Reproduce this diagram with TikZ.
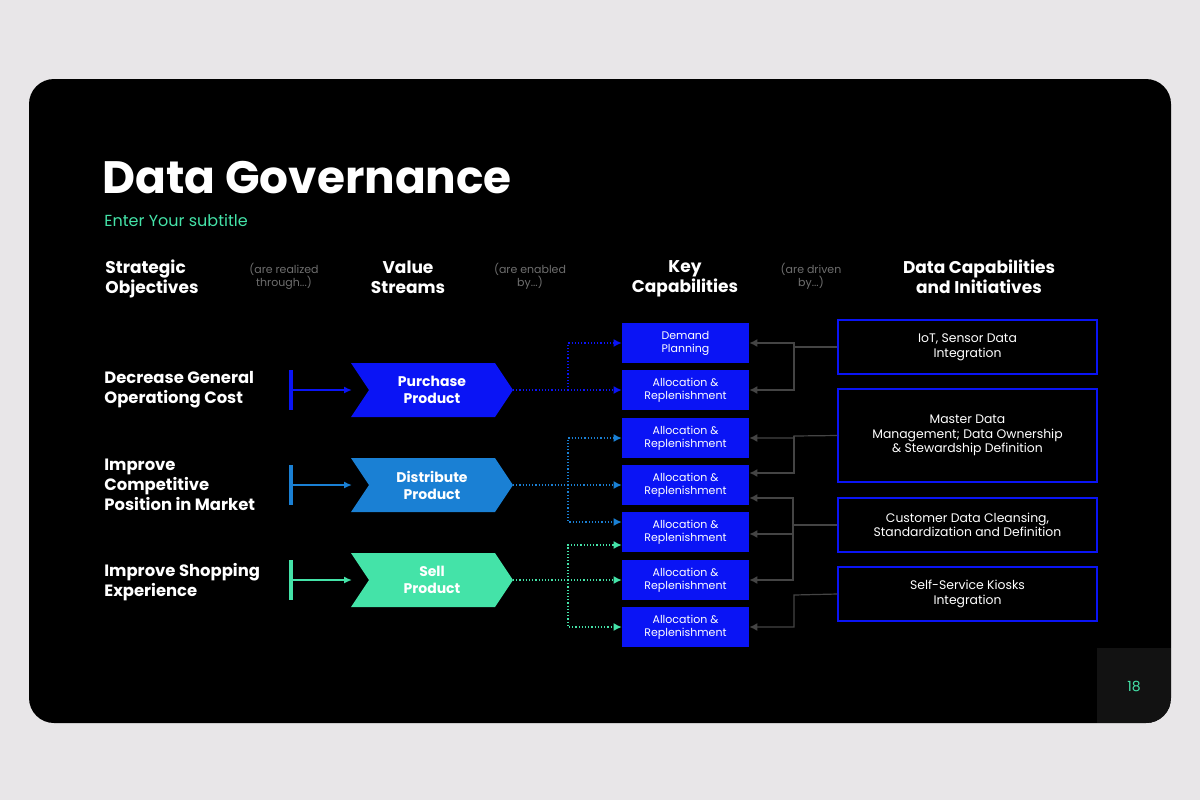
\documentclass[tikz,border=0pt]{standalone}
\usepackage{fontspec}
\setmainfont{Poppins}
\usetikzlibrary{arrows.meta,calc}
\definecolor{bgc}{HTML}{E8E6E8}
\definecolor{kblue}{HTML}{0A14F5}
\definecolor{mblue}{HTML}{1A80D4}
\definecolor{mgreen}{HTML}{44E3A8}
\definecolor{dgray}{HTML}{444444}
\definecolor{lgray}{HTML}{6E6E6E}
\begin{document}
\begin{tikzpicture}[x=0.5pt,y=-0.5pt,
 hdr/.style={text=white,font=\bfseries\fontsize{8.5}{10}\selectfont,align=center,text depth=0pt},
 note/.style={text=lgray,font=\fontsize{5.5}{6.5}\selectfont,align=center},
 obj/.style={text=white,font=\bfseries\fontsize{8.2}{10}\selectfont,align=left,anchor=west},
 key/.style={fill=kblue,minimum width=63.5pt,minimum height=20pt,inner sep=0pt,text=white,font=\fontsize{5.5}{6.5}\selectfont,align=center},
 dat/.style={draw=kblue,line width=0.7pt,minimum width=129.5pt,inner sep=0pt,text=white,font=\fontsize{6.2}{7.3}\selectfont,align=center},
 chev/.style={text=white,font=\bfseries\fontsize{7}{8.5}\selectfont,align=center},
 dot/.style={densely dotted,line width=0.6pt,-{Latex[length=4pt,width=4pt]}},
 gr/.style={draw=dgray,line width=0.6pt,-{Latex[length=4pt,width=4pt]}},
 bar/.style={line width=2pt},
 arr/.style={line width=1pt,-{Latex[length=4pt,width=3.5pt]}}]
\fill[bgc] (0,0) rectangle (1200,800);
\fill[black,rounded corners=12.5pt] (29,79) rectangle (1171,723);
\begin{scope}
\clip[rounded corners=12.5pt] (29,79) rectangle (1171,723);
\fill[black!93] (1097,648) rectangle (1171,723);
\end{scope}
\node[text=mgreen,font=\fontsize{7}{8}\selectfont] (pg) at (1134,686) {18};
\node[anchor=west,text=white,font=\bfseries\fontsize{22.7}{26}\selectfont,inner sep=0pt] (title) at (102,178) {Data Governance};
\node[anchor=west,text=mgreen,font=\fontsize{8}{9}\selectfont,inner sep=0pt] (sub) at (104,220) {Enter Your subtitle};
\node[hdr,anchor=west,align=left,inner sep=0pt] (h1) at (105,277) {Strategic\\Objectives};
\node[hdr] (h2) at (408,277) {Value\\Streams};
\node[hdr] (h3) at (685,277) {Key\\Capabilities};
\node[hdr] (h4) at (979,277) {Data Capabilities\\and Initiatives};
\node[note] (n1) at (284,276) {(are realized\\through...)};
\node[note] (n2) at (530,276) {(are enabled\\by...)};
\node[note] (n3) at (811,276) {(are driven\\by...)};
\node[obj,inner sep=0pt] (o1) at (104,390) {Decrease General\\Operationg Cost};
\node[obj,inner sep=0pt] (o2) at (104,485) {Improve\\Competitive\\Position in Market};
\node[obj,inner sep=0pt] (o3) at (104,582) {Improve Shopping\\Experience};
\foreach \y/\c/\t/\n in {390/kblue/Purchase\\Product/1,485/mblue/Distribute\\Product/2,580/mgreen/Sell\\Product/3}{
 \fill[\c] (351,\y-27) -- (495,\y-27) -- (513,\y) -- (495,\y+27) -- (351,\y+27) -- (369,\y) -- cycle;
 \node[chev] (c\n) at (432,\y) {\t};
 \coordinate (ct\n) at (513,\y);
 \coordinate (cl\n) at (352,\y);
 \coordinate (bt\n) at (291,\y-20);
 \coordinate (bb\n) at (291,\y+20);
 \draw[\c,bar] (bt\n) -- (bb\n);
 \draw[\c,arr] (291,\y) -- (cl\n);
}
\foreach \y/\n/\t in {343/1/Demand\\Planning,390/2/Allocation \&\\Replenishment,438/3/Allocation \&\\Replenishment,485/4/Allocation \&\\Replenishment,532/5/Allocation \&\\Replenishment,580/6/Allocation \&\\Replenishment,627/7/Allocation \&\\Replenishment}
 \node[key] (k\n) at (685.5,\y) {\t};
\node[dat,minimum height=27pt] (d1) at (967.5,347) {IoT, Sensor Data\\Integration};
\node[dat,minimum height=46.5pt] (d2) at (967.5,435.5) {Master Data\\Management; Data Ownership\\\& Stewardship Definition};
\node[dat,minimum height=27pt] (d3) at (967.5,525) {Customer Data Cleansing,\\Standardization and Definition};
\node[dat,minimum height=27pt] (d4) at (967.5,594) {Self-Service Kiosks\\Integration};
% dotted
\draw[kblue,dot] (ct1) -- (568,390) |- (k1.west);
\draw[kblue,dot] (ct1) -- (k2.west);
\draw[mblue,dot] (ct2) -- (568,485) |- (k3.west);
\draw[mblue,dot] (ct2) -- (k4.west);
\draw[mblue,dot] (568,485) |- ($(k5.west)+(0,-10)$);
\draw[mgreen,dot] (ct3) -- (568,580) |- ($(k5.west)+(0,13)$);
\draw[mgreen,dot] (ct3) -- (k6.west);
\draw[mgreen,dot] (568,580) |- (k7.west);
% gray
\draw[gr] (d1.west) -- (794,347) |- (k1.east);
\draw[gr] (794,347) |- (k2.east);
\draw[gr] (d2.west) -- (794,436) |- (k3.east);
\draw[gr] (794,436) |- ($(k4.east)+(0,-12)$);
\draw[gr] (d3.west) -- (793,525) |- ($(k4.east)+(0,13)$);
\draw[gr] (793,525) |- ($(k5.east)+(0,2)$);
\draw[gr] (793,525) |- (k6.east);
\draw[gr] (d4.west) -- (794,595) |- (k7.east);
\end{tikzpicture}
\end{document}
